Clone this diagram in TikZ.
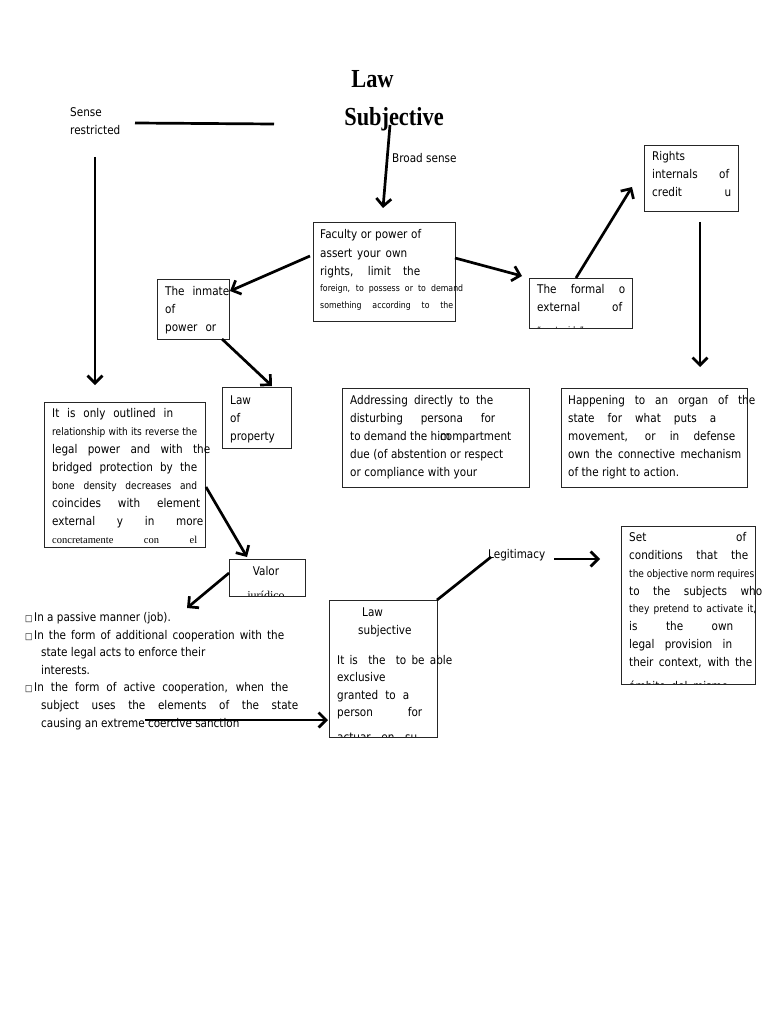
\documentclass[tikz,border=0pt]{standalone}
\usepackage{fontspec}
\setmainfont{DejaVu Sans}[FakeStretch=0.87]
\newfontfamily\titlefont{Liberation Serif}[FakeStretch=0.86]
\newfontfamily\serifsm{Liberation Serif}
\usetikzlibrary{arrows.meta,calc}
\newcommand\LineN[1]{\hbox{#1}}
\newcommand\LineJ[2]{\hbox{\makebox[#1pt][s]{#2}}}
\newcommand\TextLines[1]{\vtop{\baselineskip=18pt\lineskiplimit=-30pt\lineskip=0pt\relax #1}}
\newcommand\sm{\fontsize{9}{11}\selectfont}
\newcommand\smb{\fontsize{10.4}{12}\selectfont}
\newcommand\nm{\fontsize{12}{14}\selectfont}
\begin{document}
\begin{tikzpicture}[x=1pt,y=-1pt,
  box/.style={draw=black!85, line width=0.9pt, rectangle, inner sep=0pt, outer sep=0pt, anchor=north west},
  arr/.style={line width=2.7pt, -{Straight Barb[length=7.5pt,width=15pt]}},
  plainline/.style={line width=2.7pt},
  txt/.style={inner sep=0pt, anchor=base west, font=\nm},
  ttl/.style={inner sep=0pt, anchor=base, font=\titlefont\bfseries\fontsize{26}{30}\selectfont}]
\useasboundingbox[fill=white] (0,0) rectangle (768,1024);

% title
\node[ttl] (tlaw) at (372.5,88) {Law};
\node[ttl] (tsubj) at (394,126) {Subjective};

% boxes
\node[box, minimum width=142pt, minimum height=99pt] (fac) at (313,222) {};
\node[box, minimum width=94pt, minimum height=66pt] (rts) at (644,145) {};
\node[box, minimum width=72pt, minimum height=60pt] (inm) at (157,279) {};
\node[box, minimum width=103pt, minimum height=50pt] (frm) at (529,278) {};
\node[box, minimum width=69pt, minimum height=61pt] (lop) at (222,387) {};
\node[box, minimum width=187pt, minimum height=99pt] (adr) at (342,388) {};
\node[box, minimum width=186pt, minimum height=99pt] (hap) at (561,388) {};
\node[box, minimum width=161pt, minimum height=145pt] (itb) at (44,402) {};
\node[box, minimum width=76pt, minimum height=37pt] (val) at (229,559) {};
\node[box, minimum width=108pt, minimum height=137pt] (lsb) at (329,600) {};
\node[box, minimum width=134pt, minimum height=158pt] (set) at (621,526) {};

% free labels
\node[txt] (sense) at (70,117) {\TextLines{\LineN{Sense}\LineN{restricted}}};
\node[txt] (broad) at (392,163) {Broad sense};
\node[txt] (leg) at (488,558) {Legitimacy};

% box texts
\node[txt] (factx) at (320,239) {\TextLines{
  \LineJ{101}{Faculty or power of}
  \LineJ{87}{assert your own}
  \LineJ{100}{rights, limit the}
  \kern-2pt
  \LineJ{143}{\sm foreign, to possess or to demand}
  \LineJ{133}{\sm something according to the}}};
\node[txt] (rtstx) at (652,161) {\TextLines{
  \LineN{Rights}
  \LineJ{77}{internals of}
  \LineJ{79}{credit u}}};
\node[txt] (inmtx) at (165,295) {\TextLines{
  \LineJ{64}{The inmate}
  \LineN{of}
  \LineJ{51}{power or}}};
\node[txt] (frmtx) at (537,293) {\TextLines{
  \LineJ{88}{The formal o}
  \LineJ{85}{external of}}};
\begin{scope}
  \clip (0,278) rectangle (768,327.5);
  \node[txt] (frmcl) at (537,333) {\sm “contenido”};
\end{scope}
\node[txt] (loptx) at (230,404) {\TextLines{
  \LineN{Law}\LineN{of}\LineN{property}}};
\node[txt] (adrtx) at (350,404) {\TextLines{
  \LineJ{143}{Addressing directly to the}
  \LineJ{145}{disturbing persona for}
  \LineN{to demand \rlap{the him}\kern30pt compartment}
  \LineJ{153}{due (of abstention or respect}
  \LineJ{127}{or compliance with your}}};
\node[txt] (haptx) at (568,404) {\TextLines{
  \LineJ{187}{Happening to an organ of the}
  \LineJ{148}{state for what puts a}
  \LineJ{167}{movement, or in defense}
  \LineJ{173}{own the connective mechanism}
  \LineN{of the right to action.}}};
\node[txt] (itbtx) at (52,417) {\TextLines{
  \LineJ{121}{It is only outlined in}
  \LineJ{145}{\smb relationship with its reverse the}
  \LineJ{158}{legal power and with the}
  \LineJ{145}{bridged protection by the}
  \LineJ{145}{\smb bone density decreases and}
  \LineJ{148}{coincides with element}
  \LineJ{151}{external y in more}
  \LineJ{145}{\serifsm\fontsize{10.5}{12}\selectfont concretamente con el}}};
\node[txt, anchor=base] (valtx) at (266,575) {Valor};
\begin{scope}
  \clip (0,559) rectangle (768,595);
  \node[inner sep=0pt, anchor=base, font=\serifsm\fontsize{12}{14}\selectfont] (valcl) at (266,599) {jurídico};
\end{scope}
\node[txt] (lsbhd) at (358,616) {\TextLines{
  \LineN{\kern4pt Law}\LineN{subjective}}};
\node[txt] (lsbtx) at (337,664) {\TextLines{
  \LineJ{115}{It is \ the \ to be able}
  \kern-1pt
  \LineN{exclusive}
  \LineJ{72}{granted to a}
  \kern-1pt
  \LineJ{85}{person for}}};
\begin{scope}
  \clip (0,600) rectangle (768,736);
  \node[txt] (lsbcl) at (337,741.5) {\LineJ{80}{actuar en su}};
\end{scope}
\node[txt] (settx) at (629,541) {\TextLines{
  \LineJ{117}{Set of}
  \LineJ{119}{conditions that the}
  \LineJ{125}{\smb the objective norm requires}
  \LineJ{133}{to the subjects who}
  \kern-1pt
  \LineJ{127}{\smb they pretend to activate it,}
  \LineJ{104}{is the own}
  \LineJ{103}{legal provision in}
  \LineJ{123}{their context, with the}}};
\begin{scope}
  \clip (0,526) rectangle (768,683);
  \node[txt] (setcl) at (629,690) {\LineJ{99}{ámbito del mismo}};
\end{scope}
\node[txt] (lst) at (25,621) {\TextLines{
  \LineN{\makebox[9pt][l]{\sm □}In a passive manner (job).}
  \LineJ{259}{\makebox[9pt][l]{\sm □}In the form of additional cooperation with the}
  \kern-1pt
  \LineN{\kern16pt state legal acts to enforce their}
  \LineN{\kern16pt interests.}
  \kern-1pt
  \LineJ{263}{\makebox[9pt][l]{\sm □}In the form of active cooperation, when the}
  \LineN{\kern16pt\makebox[257pt][s]{subject uses the elements of the state}}
  \LineN{\kern16pt causing an extreme coercive sanction}}};

% connectors
\coordinate (senseEnd) at (274,124);
\draw[plainline] ($(sense.base west)+(65,6)$) -- (senseEnd);
\draw[arr] ($(sense.base west)+(25,40)$) -- ($(itb.north west)+(51,-17)$);
\draw[arr] ($(tsubj.base)+(-4,-1)$) -- ($(fac.north west)+(70,-14)$);
\draw[arr] ($(fac.north west)+(-3,34)$) -- ($(inm.north east)+(1,12)$);
\draw[arr] ($(fac.north west)+(142,36)$) -- ($(frm.north west)+(-7,-2)$);
\draw[arr] ($(frm.north west)+(47,0)$) -- ($(rts.north west)+(-12,42)$);
\draw[arr] ($(rts.north west)+(56,77)$) -- ($(hap.north west)+(139,-21)$);
\draw[arr] ($(inm.north west)+(65,60)$) -- ($(lop.north west)+(50,-1)$);
\draw[arr] ($(itb.north west)+(162,85)$) -- ($(val.north west)+(18,-2)$);
\draw[arr] ($(val.north west)+(0,14)$) -- ($(lst.base west)+(162,-13)$);
\draw[plainline] ($(lsb.north west)+(108,0)$) -- ($(leg.base west)+(3,-1)$);
\draw[arr] ($(leg.base west)+(66,1)$) -- ($(set.north west)+(-21,33)$);
\draw[arr] ($(lst.base west)+(120,99)$) -- ($(lsb.north west)+(-1,120)$);
\end{tikzpicture}
\end{document}
